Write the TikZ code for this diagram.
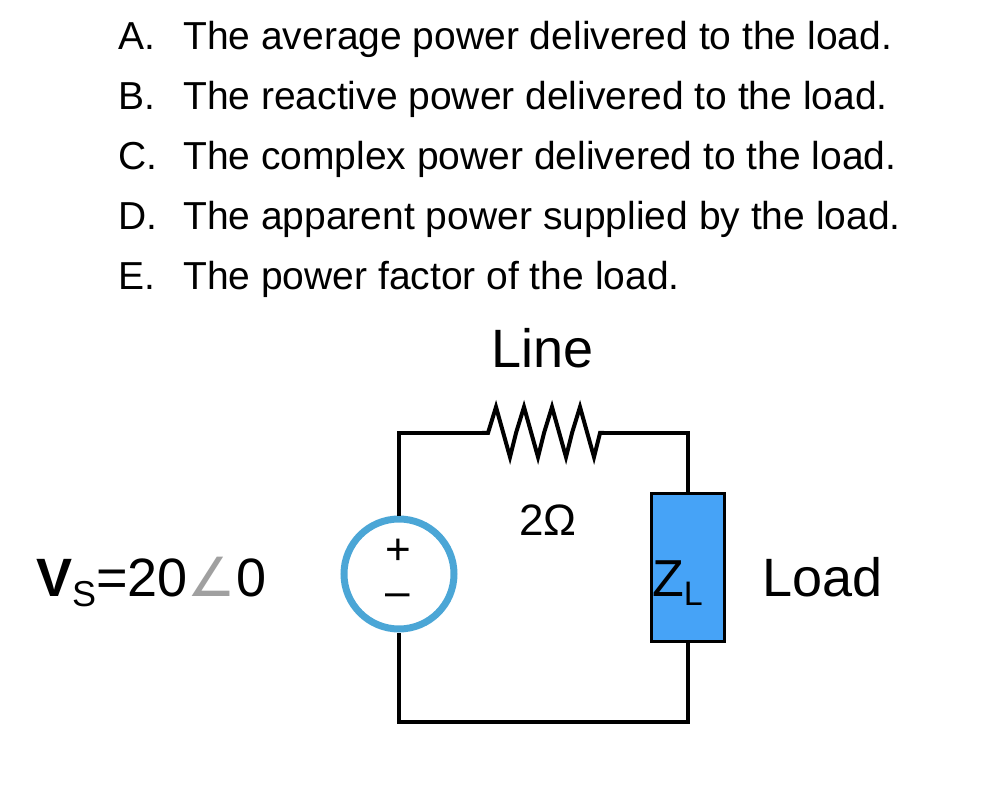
\documentclass[tikz,border=0pt]{standalone}
\usepackage{fontspec}
\setmainfont{Liberation Sans}
\newfontfamily\symfont{DejaVu Sans}
\usepackage{xcolor}
\definecolor{srcblue}{HTML}{4BA6D6}
\definecolor{loadblue}{HTML}{46A3F7}
\definecolor{anggray}{HTML}{A0A0A0}
\usetikzlibrary{positioning}
\tikzset{
  item/.style={anchor=base west, inner sep=0pt, font=\fontsize{39}{41}\selectfont},
  lbl/.style={anchor=base, inner sep=0pt, font=\fontsize{54}{56}\selectfont},
  wire/.style={line width=4pt}
}
\begin{document}
\begin{tikzpicture}[x=1pt,y=-1pt]
    \useasboundingbox (0,0) rectangle (986,810);
    % question list
    \node [item] (la) at (118,50) {A.};
    \node [item] (lb) at (118,110) {B.};
    \node [item] (lc) at (118,170) {C.};
    \node [item] (ld) at (118,230) {D.};
    \node [item] (le) at (118,290) {E.};
    \node [item] (ta) at (183,50) {The average power delivered to the load.};
    \node [item] (tb) at (183,110) {The reactive power delivered to the load.};
    \node [item] (tc) at (183,170) {The complex power delivered to the load.};
    \node [item] (td) at (183,230) {The apparent power supplied by the load.};
    \node [item] (te) at (183,290) {The power factor of the load.};

    % circuit
    \coordinate (tl) at (399,433);
    \coordinate (tr) at (688,433);
    \coordinate (bl) at (399,722);
    \coordinate (br) at (688,722);
    \coordinate (r1) at (482,433);
    \coordinate (r2) at (604,433);
    \node [circle, draw=srcblue, line width=7pt, minimum size=110pt, inner sep=0pt] (src) at (399,574) {};
    \node [font=\fontsize{44}{44}\selectfont, inner sep=0pt] (plus) at (398,552) {+};
    \node [font=\fontsize{44}{44}\selectfont, inner sep=0pt] (minus) at (398,600) {--};
    \node [rectangle, draw, line width=3pt, fill=loadblue, minimum width=73pt, minimum height=148pt, inner sep=0pt] (load) at (688,567) {};
    \node [anchor=base west, inner sep=0pt, font=\fontsize{52}{54}\selectfont] (zl) at (652,596) {Z\raisebox{-9pt}{\fontsize{34}{34}\selectfont L}};

    \draw [wire] (src.north) -- (tl) -- (r1);
    \draw [wire, line join=miter] (r1) -- ++(6,0)
      \foreach \i in {0,...,3} { -- ++(8,-26) -- ++(14,50) -- ++(6,-24) }
      -- (r2);
    \draw [wire] (r2) -- (tr) -- (load.north);
    \draw [wire] (load.south) -- (br) -- (bl) -- (src.south);

    \node [lbl] (line) at (543,368) {Line};
    \node [lbl, font=\fontsize{44}{46}\selectfont] (ohm) at (548,535) {2Ω};
    \node [lbl, anchor=base west] (ld2) at (762,596) {Load};
    \node [lbl, anchor=base west] (vs) at (36,596) {\textbf{V}\raisebox{-10pt}{\fontsize{36}{36}\selectfont S}=20{\color{anggray}\symfont ∠}0};
\end{tikzpicture}
\end{document}
